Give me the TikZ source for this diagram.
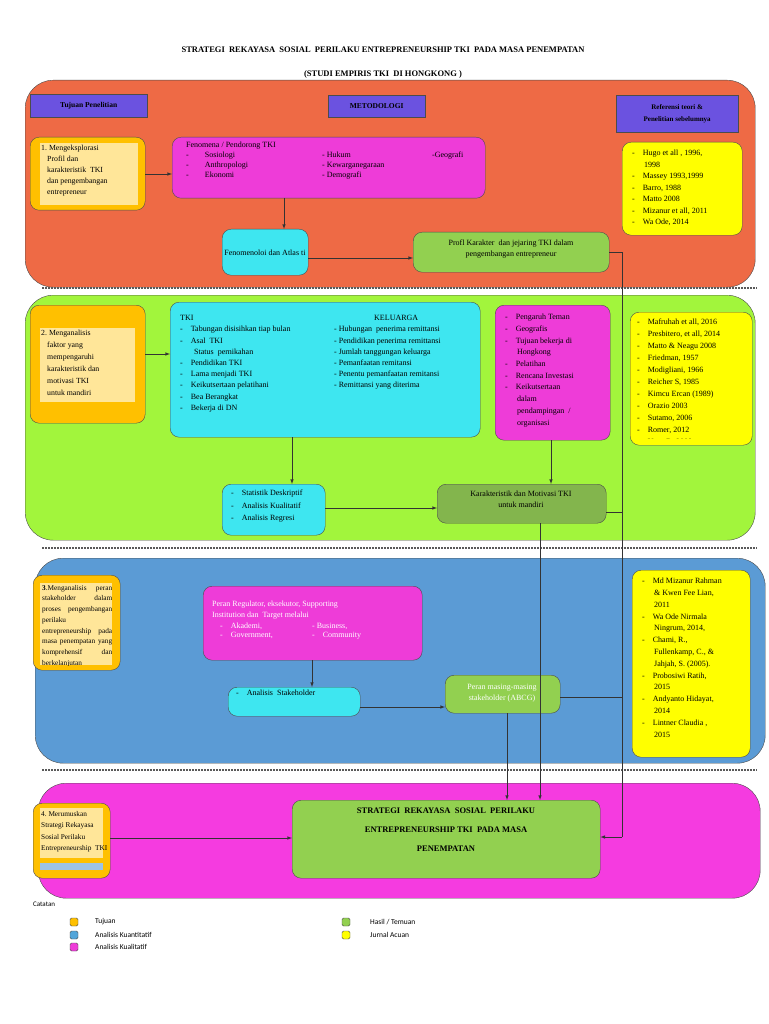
\documentclass[tikz,border=0pt]{standalone}
\usepackage{fontspec}
\setmainfont{Liberation Serif}
\newfontfamily\legf{Carlito}
\definecolor{bandO}{HTML}{EE6A45}
\definecolor{bandG}{HTML}{A2F53C}
\definecolor{bandB}{HTML}{5B9BD5}
\definecolor{bandM}{HTML}{F53BE0}
\definecolor{purp}{HTML}{6B52E0}
\definecolor{gold}{HTML}{FFC000}
\definecolor{pale}{HTML}{FFE699}
\definecolor{mag}{HTML}{EE3CD8}
\definecolor{cyn}{HTML}{3EE6F0}
\definecolor{grn}{HTML}{92D050}
\definecolor{yel}{HTML}{FFFF00}
\tikzset{
 band/.style={draw=gray!60!black,rounded corners=28pt,anchor=north west,inner sep=0},
 bx/.style={draw=gray!60!black,rounded corners=9pt,anchor=north west,inner sep=0},
 hd/.style={draw=gray!60!black,fill=purp,anchor=north west,inner sep=0,font=\fontsize{7.5}{9}\selectfont\bfseries},
 tx/.style={anchor=north west,align=left,inner sep=0,font=\fontsize{8}{11.5}\selectfont},
 ln/.style={draw=black!80,line width=0.6pt},
 ar/.style={ln,-latex},
 sep/.style={draw=gray!70!black,dashed,dash pattern=on 2pt off 1pt,line width=0.5pt},
 lg/.style={draw=gray!60!black,rounded corners=1.5pt,minimum size=8pt,inner sep=0},
 lt/.style={anchor=west,inner sep=0,font=\legf\fontsize{7.5}{9}\selectfont}
}
\newcommand{\bxx}[6]{\node[bx,fill=#2,minimum width=#5-#3,minimum height=#6-#4] (#1) at (#3,#4) {};}
\begin{document}
\begin{tikzpicture}[x=1pt,y=-1pt]
\useasboundingbox[fill=white] (0,0) rectangle (768,1024);
\node[font=\fontsize{8.5}{10}\selectfont\bfseries] (t1) at (383,50) {STRATEGI\ \ REKAYASA\ \ SOSIAL\ \ PERILAKU ENTREPRENEURSHIP TKI\ \ PADA MASA PENEMPATAN};
\node[font=\fontsize{8.5}{10}\selectfont\bfseries] (t2) at (383,74) {(STUDI EMPIRIS TKI\ \ DI HONGKONG )};
% bands
\node[band,fill=bandO,minimum width=730,minimum height=207] (b1) at (25,80) {};
\node[band,fill=bandG,minimum width=730,minimum height=245] (b2) at (25,295) {};
\node[band,fill=bandB,minimum width=730,minimum height=205] (b3) at (35,558) {};
\node[band,fill=bandM,minimum width=722,minimum height=115] (b4) at (38,783) {};
\foreach \yy/\nm in {288.5/s1,548.5/s2,770.5/s3}{
 \coordinate (\nm a) at (42,\yy); \coordinate (\nm b) at (757,\yy);
 \draw[sep] (\nm a) -- (\nm b);
 \draw[sep] ([yshift=1.6pt]\nm a) -- ([yshift=1.6pt]\nm b);}
% band 1
\node[hd,minimum width=117,minimum height=23] (h1) at (30,94) {Tujuan Penelitian};
\node[hd,minimum width=97,minimum height=22] (h2) at (328,95) {METODOLOGI};
\node[hd,minimum width=122,minimum height=37,align=center,font=\fontsize{7}{12}\selectfont\bfseries] (h3) at (616,95) {Referensi teori \&\\Penelitian sebelumnya};
\bxx{g1}{gold}{30}{137}{145}{210}
\node[anchor=north west,fill=pale,minimum width=98,minimum height=62,inner sep=0] (g1i) at (40,143) {};
\node[tx,font=\fontsize{7.8}{11}\selectfont] (g1t) at (41,145) {1.\ Mengeksplorasi\\\hspace*{6pt}Profil dan\\\hspace*{6pt}karakteristik\ \ TKI\\\hspace*{6pt}dan pengembangan\\\hspace*{6pt}entrepreneur};
\bxx{f1}{mag}{172}{137}{485}{198}
\node[tx,font=\fontsize{8}{12}\selectfont] (f1t) at (186,142) {Fenomena / Pendorong TKI\\[-1pt]
\begin{tabular}{@{}p{124pt}p{98pt}l@{}}
-\qquad Sosiologi & - Hukum & -Geografi\\[-2pt]
-\qquad Anthropologi & - Kewarganegaraan & \\[-2pt]
-\qquad Ekonomi & - Demografi &
\end{tabular}};
\bxx{c1}{cyn}{222}{229}{308}{275}
\node[font=\fontsize{8}{9}\selectfont] (c1t) at (265,253) {Fenomenoloi dan Atlas ti};
\bxx{r1}{grn}{413}{232}{609}{272}
\node[align=center,font=\fontsize{8}{11}\selectfont] (r1t) at (511,249) {Profl Karakter\ \ dan jejaring TKI dalam\\pengembangan entrepreneur};
\bxx{y1}{yel}{622}{142}{742}{235}
\node[tx] (y1t) at (632,150) {-\quad Hugo et all , 1996,\\\hspace*{12pt}1998\\-\quad Massey 1993,1999\\-\quad Barro, 1988\\-\quad Matto 2008\\-\quad Mizanur et all, 2011\\-\quad Wa Ode, 2014};
% band 2
\bxx{g2}{gold}{30}{305}{145}{423}
\node[anchor=north west,fill=pale,minimum width=95,minimum height=74,inner sep=0] (g2i) at (40,328) {};
\node[tx,font=\fontsize{7.8}{12}\selectfont] (g2t) at (41,330) {2.\ Menganalisis\\\hspace*{6pt}faktor yang\\\hspace*{6pt}mempengaruhi\\\hspace*{6pt}karakteristik dan\\\hspace*{6pt}motivasi TKI\\\hspace*{6pt}untuk mandiri};
\bxx{c2}{cyn}{170}{302}{480}{437}
\node[tx,font=\fontsize{8}{12.2}\selectfont] (c2t) at (180,312) {
\begin{tabular}{@{}p{142pt}l@{}}
TKI & \hspace*{40pt}KELUARGA\\[-1pt]
-\quad Tabungan disisihkan tiap bulan & - Hubungan\ \ penerima remittansi\\[-1pt]
-\quad Asal\ \ TKI & - Pendidikan penerima remittansi\\[-1pt]
\hspace*{14pt}Status\ \ pernikahan & - Jumlah tanggungan keluarga\\[-1pt]
-\quad Pendidikan TKI & - Pemanfaatan remitansi\\[-1pt]
-\quad Lama menjadi TKI & - Penentu pemanfaatan remitansi\\[-1pt]
-\quad Keikutsertaan pelatihani & - Remittansi yang diterima\\[-1pt]
-\quad Bea Berangkat & \\[-1pt]
-\quad Bekerja di DN &
\end{tabular}};
\bxx{m2}{mag}{495}{305}{610}{440}
\node[tx,font=\fontsize{8}{11.7}\selectfont] (m2t) at (505,314) {-\quad Pengaruh Teman\\-\quad Geografis\\-\quad Tujuan bekerja di\\\hspace*{12pt}Hongkong\\-\quad Pelatihan\\-\quad Rencana Investasi\\-\quad Keikutsertaan\\\hspace*{12pt}dalam\\\hspace*{12pt}pendampingan\ \ /\\\hspace*{12pt}organisasi};
\bxx{y2}{yel}{630}{312}{752}{445}
\begin{scope}
\clip (632,314) rectangle (750,438);
\node[tx,font=\fontsize{8}{12}\selectfont] (y2t) at (637,319) {-\quad Mafruhah et all, 2016\\-\quad Presbitero, et all, 2014\\-\quad Matto \& Neagu 2008\\-\quad Friedman, 1957\\-\quad Modigliani, 1966\\-\quad Reicher S, 1985\\-\quad Kimcu Ercan (1989)\\-\quad Orazio 2003\\-\quad Sutamo, 2006\\-\quad Romer, 2012\\-\quad Yang D, 2008};
\end{scope}
\bxx{c3}{cyn}{222}{484}{325}{535}
\node[tx,font=\fontsize{8}{12.5}\selectfont] (c3t) at (231,490) {-\quad Statistik Deskriptif\\-\quad Analisis Kualitatif\\-\quad Analisis Regresi};
\node[bx,fill=grn!85!black!95,draw=gray!60!black,minimum width=169,minimum height=39] (k2) at (437,484) {};
\node[align=center,font=\fontsize{8}{11}\selectfont] (k2t) at (521,499) {Karakteristik dan Motivasi TKI\\untuk mandiri};
% band 3
\bxx{g3}{gold}{33}{575}{120}{670}
\node[anchor=north west,fill=pale,minimum width=72,minimum height=82,inner sep=0] (g3i) at (40,583) {};
\begin{scope}
\clip (40,583) rectangle (112,665);
\node[tx,text width=70pt,align=justify,font=\fontsize{7.3}{10.7}\selectfont] (g3t) at (42,585) {\textbf{3}.Menganalisis peran stakeholder dalam proses pengembangan perilaku\newline entrepreneurship pada masa penempatan yang komprehensif dan berkelanjutan};
\end{scope}
\bxx{m3}{mag}{203}{586}{422}{660}
\node[tx,font=\fontsize{8}{11}\selectfont,text=white] (m3t) at (212,601) {Peran Regulator, eksekutor, Supporting\\Institution dan\ \ Target melalui\\
\begin{tabular}{@{}p{88pt}l@{}}
\hspace*{8pt}-\quad Akademi, & - Business,\\[-2pt]
\hspace*{8pt}-\quad Government, & -\quad Community
\end{tabular}};
\bxx{c4}{cyn}{228}{687}{360}{716}
\node[tx] (c4t) at (236,690) {-\quad Analisis\ \ Stakeholder};
\bxx{k3}{grn}{445}{675}{560}{713}
\node[align=center,font=\fontsize{8}{11}\selectfont,text=white] (k3t) at (502,693) {Peran masing-masing\\stakeholder (ABCG)};
\bxx{y3}{yel}{632}{570}{750}{757}
\node[tx,font=\fontsize{8}{11.8}\selectfont] (y3t) at (642,578) {-\quad Md Mizanur Rahman\\\hspace*{12pt}\& Kwen Fee Lian,\\\hspace*{12pt}2011\\-\quad Wa Ode Nirmala\\\hspace*{12pt}Ningrum, 2014,\\-\quad Chami, R.,\\\hspace*{12pt}Fullenkamp, C., \&\\\hspace*{12pt}Jahjah, S. (2005).\\-\quad Probosiwi Ratih,\\\hspace*{12pt}2015\\-\quad Andyanto Hidayat,\\\hspace*{12pt}2014\\-\quad Lintner Claudia\ ,\\\hspace*{12pt}2015};
% band 4
\bxx{g4}{gold}{33}{803}{110}{878}
\node[anchor=north west,fill=pale,minimum width=63,minimum height=50,inner sep=0] (g4i) at (40,808) {};
\node[anchor=north west,fill=bandB!60,minimum width=63,minimum height=7,inner sep=0] (g4b) at (40,863) {};
\node[tx,font=\fontsize{7.3}{11.5}\selectfont] (g4t) at (41,811) {4.\ Merumuskan\\Strategi Rekayasa\\Sosial Perilaku\\Entrepreneurship\ \ TKI};
\bxx{st}{grn}{292}{800}{600}{878}
\node[align=center,font=\fontsize{8.5}{19}\selectfont\bfseries] (stt) at (446,830) {STRATEGI\ \ REKAYASA\ \ SOSIAL\ \ PERILAKU\\ENTREPRENEURSHIP TKI\ \ PADA MASA\\PENEMPATAN};
% connectors
\draw[ar] (g1.east|-160,174) -- (f1.west|-160,174);
\draw[ar] (f1.south-|284,0) -- (c1.north-|284,0);
\draw[ar] (c1.east|-0,258) -- (r1.west|-0,258);
\coordinate (jb) at (622,837);
\draw[ln] (r1.east|-0,252) -- (622,252) -- (jb);
\draw[ar] (jb) -- (st.east|-jb);
\draw[ar] (g2.east|-0,354) -- (c2.west|-0,354);
\draw[ar] (c2.south-|292,0) -- (c3.north-|292,0);
\draw[ar] (m2.south-|551,0) -- (k2.north-|551,0);
\draw[ar] (c3.east|-0,508) -- (k2.west|-0,508);
\draw[ln] (k2.east|-0,512) -- (622,512);
\draw[ar] (k2.south-|540,0) -- (st.north-|540,0);
\draw[ar] (m3.south-|312,0) -- (c4.north-|312,0);
\draw[ar] (c4.east|-0,707) -- (k3.west|-0,707);
\draw[ln] (k3.east|-0,697) -- (622,697);
\draw[ar] (k3.south-|507,0) -- (st.north-|507,0);
\draw[ar] (g4.east|-0,838) -- (st.west|-0,838);
% legend
\node[anchor=west,inner sep=0,font=\legf\fontsize{7}{9}\selectfont] (cat) at (33,904) {Catatan};
\node[lg,fill=gold] (l1) at (74,922) {}; \node[lt] (l1t) at (95,922) {Tujuan};
\node[lg,fill=bandB!90!cyan] (l2) at (74,935) {}; \node[lt] (l2t) at (95,935) {Analisis Kuantitatif};
\node[lg,fill=mag] (l3) at (74,947) {}; \node[lt] (l3t) at (95,947) {Analisis Kualitatif};
\node[lg,fill=grn] (l4) at (346,922) {}; \node[lt] (l4t) at (370,922) {Hasil / Temuan};
\node[lg,fill=yel] (l5) at (346,935) {}; \node[lt] (l5t) at (370,935) {Jurnal Acuan};
\end{tikzpicture}
\end{document}
